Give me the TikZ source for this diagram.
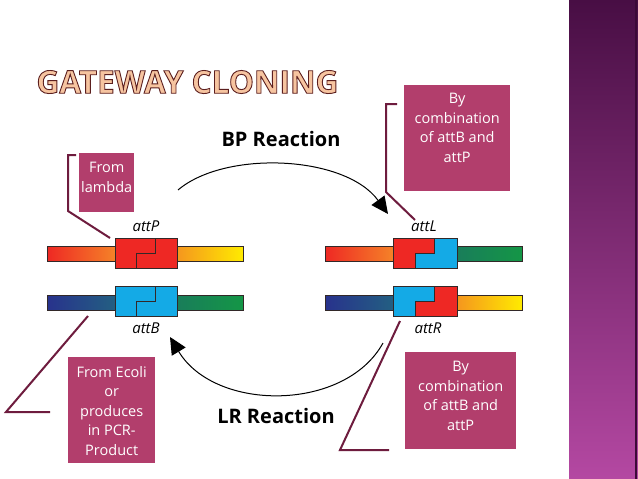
\documentclass[tikz,border=0pt]{standalone}
\usepackage{fontspec}
\setmainfont{Open Sans}
\usetikzlibrary{arrows.meta}
\definecolor{callout}{RGB}{178,62,108}
\definecolor{leader}{RGB}{110,28,62}
\definecolor{dnared}{RGB}{238,40,36}
\definecolor{dnablue}{RGB}{20,170,230}
\definecolor{edge}{RGB}{50,40,40}
\definecolor{titlefill}{RGB}{246,196,160}
\definecolor{bandtop}{RGB}{72,14,68}
\definecolor{bandbot}{RGB}{180,72,162}
\definecolor{bandline}{RGB}{60,10,55}
\definecolor{dorange}{RGB}{245,130,40}
\definecolor{lorange}{RGB}{245,150,30}
\definecolor{dyellow}{RGB}{255,235,0}
\definecolor{navy}{RGB}{40,50,140}
\definecolor{teal}{RGB}{35,95,130}
\definecolor{dgreen}{RGB}{25,125,90}
\definecolor{lgreen}{RGB}{20,150,70}
\newcommand{\outlined}[1]{\special{pdf:literal direct 2 Tr 0.9 w 0.36 0.12 0.12 RG}#1\special{pdf:literal direct 0 Tr}}
\tikzset{
  box/.style={fill=callout, anchor=north west, inner sep=0pt},
  boxtext/.style={text=white, align=center, anchor=north, yshift=-9pt, inner sep=0pt, font=\fontsize{14.5}{19.5}\selectfont},
  lead/.style={draw=leader, line width=2pt},
  arc/.style={line width=1pt, -{Triangle[length=17pt,width=16pt]}},
  site/.style={font=\itshape\fontsize{15}{15}\selectfont},
  react/.style={font=\bfseries\fontsize{20}{20}\selectfont},
  dna/.style={draw=edge, line width=0.7pt}
}
\begin{document}
\begin{tikzpicture}[x=1pt,y=-1pt]
\useasboundingbox (0,0) rectangle (638,479);
\fill[white] (0,0) rectangle (638,479);
% side band
\shade[top color=bandtop, bottom color=bandbot] (569,0) rectangle (638,479);
\draw[bandline, line width=1.5pt] (636,0) -- (636,479);

% title
\node[anchor=west, text=titlefill, font=\bfseries\fontsize{31.5}{32}\selectfont] (title) at (33,82) {\outlined{GATEWAY CLONING}};

% left top: attP
\shade[left color=dnared, right color=dorange] (47,246) rectangle (115,261);
\shade[left color=lorange, right color=dyellow] (177,246) rectangle (243,261);
\draw[dna] (47,246) rectangle (243,261);
\fill[dnared] (115,238) rectangle (177,268);
\draw[dna] (115,238) rectangle (177,268) (155,238) -- (155,253) -- (136,253) -- (136,268);
\node[site] (attP) at (146,226) {attP};

% left bottom: attB
\shade[left color=navy, right color=teal] (47,295) rectangle (115,310);
\shade[left color=dgreen, right color=lgreen] (177,295) rectangle (243,310);
\draw[dna] (47,295) rectangle (243,310);
\fill[dnablue] (115,286) rectangle (177,316);
\draw[dna] (115,286) rectangle (177,316) (155,286) -- (155,301) -- (136,301) -- (136,316);
\node[site] (attB) at (146,328) {attB};

% right top: attL
\shade[left color=dnared, right color=dorange] (325,246) rectangle (393,261);
\shade[left color=dgreen, right color=lgreen] (457,246) rectangle (522,261);
\draw[dna] (325,246) rectangle (522,261);
\fill[dnared] (393,238) -- (434,238) -- (434,253) -- (415,253) -- (415,268) -- (393,268) -- cycle;
\fill[dnablue] (434,238) rectangle (457,268) (415,253) rectangle (434,268);
\draw[dna] (393,238) rectangle (457,268) (434,238) -- (434,253) -- (415,253) -- (415,268);
\node[site] (attL) at (424,226) {attL};

% right bottom: attR
\shade[left color=navy, right color=teal] (325,295) rectangle (393,310);
\shade[left color=lorange, right color=dyellow] (457,295) rectangle (522,310);
\draw[dna] (325,295) rectangle (522,310);
\fill[dnablue] (393,286) -- (434,286) -- (434,301) -- (415,301) -- (415,316) -- (393,316) -- cycle;
\fill[dnared] (434,286) rectangle (457,316) (415,301) rectangle (434,316);
\draw[dna] (393,286) rectangle (457,316) (434,286) -- (434,301) -- (415,301) -- (415,316);
\node[site] (attR) at (428,328) {attR};

% reactions
\node[react] (bp) at (281,139) {BP Reaction};
\node[react] (lr) at (276,416) {LR Reaction};
\coordinate (bps) at (178,190);
\coordinate (bpe) at (388,214);
\coordinate (lrs) at (383,343);
\coordinate (lre) at (170,337);
\draw[arc] (bps) .. controls (225,150) and (345,155) .. (bpe);
\draw[arc] (lrs) .. controls (345,412) and (215,412) .. (lre);

% callouts
\node[box, minimum width=55pt, minimum height=59pt] (lambda) at (79,153) {};
\node[boxtext] (lambdat) at (lambda.north) {From\\lambda};
\node[box, minimum width=106pt, minimum height=106pt] (comb1) at (404,85) {};
\node[boxtext, yshift=1pt] (comb1t) at (comb1.north) {By\\combination\\of attB and\\attP};
\node[box, minimum width=87pt, minimum height=106pt] (ecoli) at (68,357) {};
\node[boxtext] (ecolit) at (ecoli.north) {From Ecoli\\or\\produces\\in PCR-\\Product};
\node[box, minimum width=111pt, minimum height=97pt] (comb2) at (405,352) {};
\node[boxtext] (comb2t) at (comb2.north) {By\\combination\\of attB and\\attP};

\coordinate (l1a) at (76,155); \coordinate (l1b) at (68,155); \coordinate (l1c) at (68,211); \coordinate (l1d) at (110,238);
\draw[lead] (l1a) -- (l1b) -- (l1c) -- (l1d);
\coordinate (l2a) at (397,104); \coordinate (l2b) at (386,104); \coordinate (l2c) at (386,192); \coordinate (l2d) at (415,220);
\draw[lead] (l2a) -- (l2b) -- (l2c) -- (l2d);
\coordinate (l3a) at (88,316); \coordinate (l3b) at (6,412); \coordinate (l3c) at (50,412);
\draw[lead] (l3a) -- (l3b) -- (l3c);
\coordinate (l4a) at (400,321); \coordinate (l4b) at (340,450); \coordinate (l4c) at (389,450);
\draw[lead] (l4a) -- (l4b) -- (l4c);
\end{tikzpicture}
\end{document}
